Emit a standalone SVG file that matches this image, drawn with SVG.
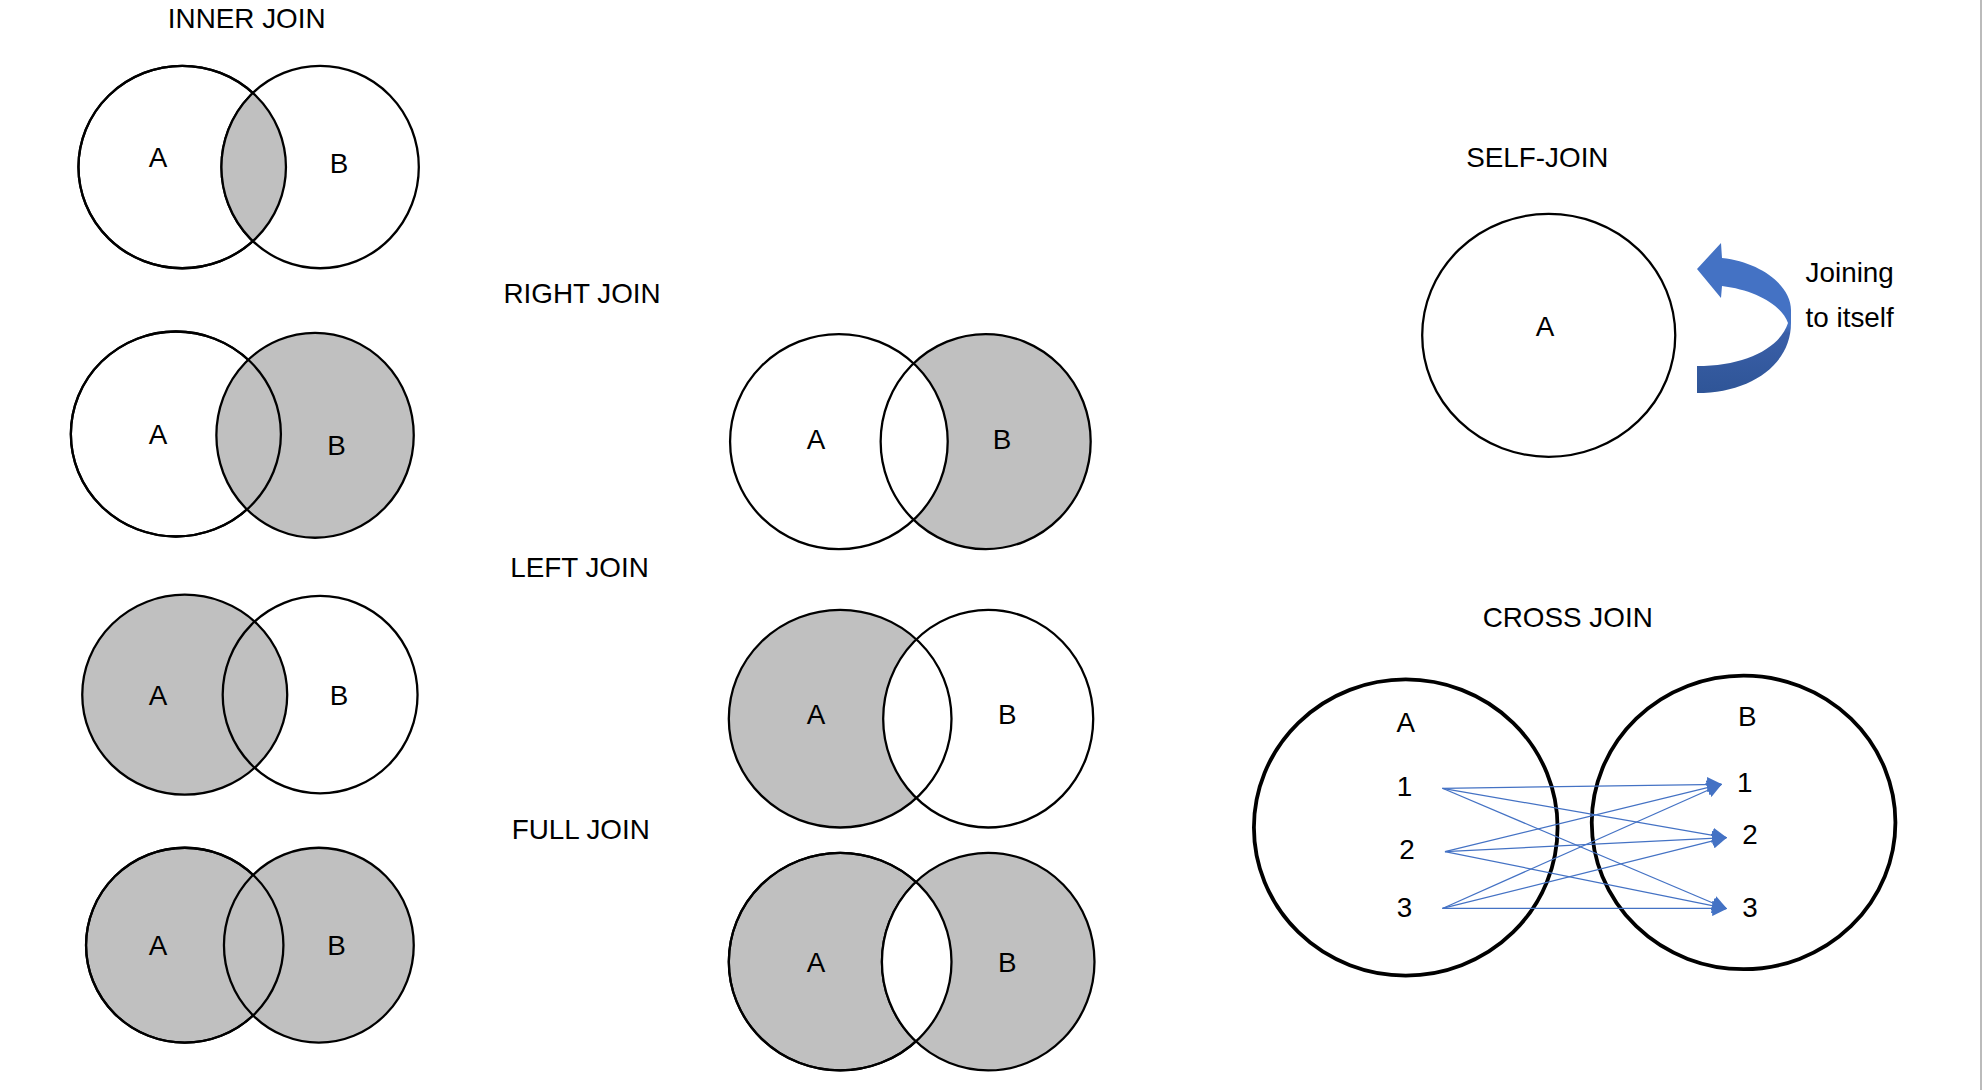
<svg xmlns="http://www.w3.org/2000/svg" width="1984" height="1090" viewBox="0 0 1984 1090">
<style>
.c{fill:#fff;stroke:#000;stroke-width:1.8}
.s{fill:#c0c0c0;stroke:#000;stroke-width:1.8}
.o{fill:none;stroke:#000;stroke-width:1.8}
.x{fill:#fff;stroke:#000;stroke-width:3}
.t{font-family:"Liberation Sans",Arial,sans-serif;font-size:22px;fill:#000;text-anchor:middle;dominant-baseline:middle}
.l{stroke:#4472c4;stroke-width:1;fill:none;marker-end:url(#ah)}
</style>
<defs>
<marker id="ah" viewBox="0 0 10 10" refX="9" refY="5" markerWidth="12" markerHeight="12" markerUnits="userSpaceOnUse" orient="auto"><path d="M0,0L10,5L0,10Z" fill="#4472c4"/></marker>
<linearGradient id="g" x1="0" y1="0" x2="0" y2="1"><stop offset="0" stop-color="#4472c4"/><stop offset="0.55" stop-color="#4472c4"/><stop offset="0.6" stop-color="#3a5fa8"/><stop offset="1" stop-color="#2f5597"/></linearGradient>
<clipPath id="i1"><ellipse cx="144" cy="132" rx="82" ry="80"/></clipPath>
<clipPath id="m1"><ellipse cx="663" cy="349" rx="86" ry="85"/></clipPath>
<clipPath id="m2"><ellipse cx="781" cy="568" rx="83" ry="86"/></clipPath>
<clipPath id="m3"><ellipse cx="664" cy="760" rx="88" ry="86"/></clipPath>
</defs>
<rect width="1984" height="1090" fill="#fff"/>
<line x1="1981" y1="0" x2="1981" y2="1090" stroke="#bbb" stroke-width="2"/>
<g transform="scale(1.2653)">
<g id="inner-join">
<text class="t" x="195" y="16">INNER JOIN</text>
<ellipse class="c" cx="144" cy="132" rx="82" ry="80"/>
<ellipse class="c" cx="253" cy="132" rx="78" ry="80"/>
<ellipse class="s" cx="253" cy="132" rx="78" ry="80" clip-path="url(#i1)"/>
<ellipse class="o" cx="144" cy="132" rx="82" ry="80"/>
<text class="t" x="125" y="126">A</text><text class="t" x="268" y="131">B</text>
</g>
<g id="right-join-1">
<ellipse class="c" cx="139" cy="343" rx="83" ry="81"/>
<ellipse class="s" cx="249" cy="344" rx="78" ry="81"/>
<ellipse class="o" cx="139" cy="343" rx="83" ry="81"/>
<text class="t" x="125" y="345">A</text><text class="t" x="266" y="354">B</text>
</g>
<g id="left-join-1">
<ellipse class="s" cx="146" cy="549" rx="81" ry="79"/>
<ellipse class="o" cx="253" cy="549" rx="77" ry="78"/>
<text class="t" x="125" y="551">A</text><text class="t" x="268" y="551">B</text>
</g>
<g id="full-join-1">
<ellipse class="s" cx="146" cy="747" rx="78" ry="77"/>
<ellipse class="s" cx="252" cy="747" rx="75" ry="77"/>
<ellipse class="o" cx="146" cy="747" rx="78" ry="77"/>
<text class="t" x="125" y="749">A</text><text class="t" x="266" y="749">B</text>
</g>
<text class="t" x="460" y="234">RIGHT JOIN</text>
<text class="t" x="458" y="450">LEFT JOIN</text>
<text class="t" x="459" y="657">FULL JOIN</text>
<g id="right-join-2">
<ellipse class="s" cx="779" cy="349" rx="83" ry="85"/>
<ellipse class="c" cx="663" cy="349" rx="86" ry="85"/>
<ellipse class="o" cx="779" cy="349" rx="83" ry="85" clip-path="url(#m1)"/>
<text class="t" x="645" y="349">A</text><text class="t" x="792" y="349">B</text>
</g>
<g id="left-join-2">
<ellipse class="s" cx="664" cy="568" rx="88" ry="86"/>
<ellipse class="c" cx="781" cy="568" rx="83" ry="86"/>
<ellipse class="o" cx="664" cy="568" rx="88" ry="86" clip-path="url(#m2)"/>
<text class="t" x="645" y="566">A</text><text class="t" x="796" y="566">B</text>
</g>
<g id="full-join-2">
<ellipse class="s" cx="664" cy="760" rx="88" ry="86"/>
<ellipse class="s" cx="781" cy="760" rx="84" ry="86"/>
<ellipse class="c" cx="781" cy="760" rx="84" ry="86" clip-path="url(#m3)"/>
<ellipse class="o" cx="664" cy="760" rx="88" ry="86"/>
<text class="t" x="645" y="762">A</text><text class="t" x="796" y="762">B</text>
</g>
<g id="self-join">
<text class="t" x="1215" y="126">SELF-JOIN</text>
<ellipse class="c" cx="1224" cy="265" rx="100" ry="96"/>
<text class="t" x="1221" y="260">A</text>
<text class="t" x="1427" y="217" style="text-anchor:start">Joining</text>
<text class="t" x="1427" y="253" style="text-anchor:start">to itself</text>
</g>
<g id="cross-join">
<text class="t" x="1239" y="490">CROSS JOIN</text>
<ellipse class="x" cx="1111" cy="654" rx="120" ry="117"/>
<ellipse class="x" cx="1378" cy="650" rx="120" ry="116"/>
<text class="t" x="1111" y="573">A</text><text class="t" x="1381" y="568">B</text>
<text class="t" x="1110" y="623">1</text><text class="t" x="1112" y="673">2</text><text class="t" x="1110" y="719">3</text>
<text class="t" x="1379" y="620">1</text><text class="t" x="1383" y="661">2</text><text class="t" x="1383" y="719">3</text>
</g>
<g id="connectors">
<line class="l" x1="1140" y1="623" x2="1360" y2="620"/>
<line class="l" x1="1140" y1="623" x2="1364" y2="662"/>
<line class="l" x1="1140" y1="623" x2="1364" y2="718"/>
<line class="l" x1="1142" y1="673" x2="1360" y2="620"/>
<line class="l" x1="1142" y1="673" x2="1364" y2="662"/>
<line class="l" x1="1142" y1="673" x2="1364" y2="718"/>
<line class="l" x1="1140" y1="718" x2="1360" y2="620"/>
<line class="l" x1="1140" y1="718" x2="1364" y2="662"/>
<line class="l" x1="1140" y1="718" x2="1364" y2="718"/>
</g>
</g>
<path id="self-arrow" d="M1697,393 C1750,393 1791,365 1791,323 L1791,310 C1791,285 1760,262 1722,258 L1721,243 L1697,269 L1721,298 L1722,286 C1755,290 1782,305 1788,323 C1780,348 1745,366 1697,366 Z" fill="url(#g)"/>
</svg>
